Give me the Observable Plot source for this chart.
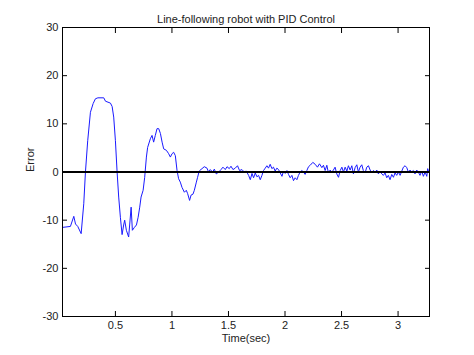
<!DOCTYPE html>
<html>
<head>
<meta charset="utf-8">
<script src="https://cdn.jsdelivr.net/npm/d3@7"></script>
<script src="https://cdn.jsdelivr.net/npm/@observablehq/plot@0.6"></script>
<style>
  html, body { margin: 0; padding: 0; background: #fff; }
</style>
</head>
<body>
<div id="chart"></div>
<script>
const title = "Line-following robot with PID Control";
const xLabel = "Time(sec)";
const yLabel = "Error";
const xTicks = [0.5, 1, 1.5, 2, 2.5, 3];
const yTicks = [-30, -20, -10, 0, 10, 20, 30];

const time = [
  0.032, 0.102, 0.132, 0.147, 0.167, 0.197, 0.220, 0.235, 0.255, 0.279,
  0.303, 0.323, 0.345, 0.397, 0.412, 0.456, 0.471, 0.485, 0.500, 0.515,
  0.529, 0.544, 0.559, 0.573, 0.582, 0.597, 0.617, 0.626, 0.639, 0.650,
  0.668, 0.686, 0.701, 0.715, 0.727, 0.745, 0.759, 0.774, 0.785, 0.809,
  0.824, 0.838, 0.853, 0.868, 0.883, 0.898, 0.913, 0.927, 0.951, 0.971,
  0.986, 1.001, 1.015, 1.030, 1.045, 1.059, 1.074, 1.089, 1.110, 1.127,
  1.139, 1.156, 1.169, 1.186, 1.198, 1.216, 1.227, 1.239,
  1.245, 1.266, 1.286, 1.310, 1.324, 1.339, 1.360, 1.375, 1.392, 1.413,
  1.434, 1.451, 1.472, 1.487, 1.507, 1.522, 1.540, 1.560, 1.580, 1.598,
  1.619, 1.640, 1.657, 1.678, 1.693, 1.708, 1.722, 1.737, 1.752, 1.766,
  1.781, 1.796, 1.810, 1.825, 1.840, 1.854, 1.869, 1.884, 1.898, 1.913,
  1.928, 1.943, 1.958, 1.973, 1.987, 2.002, 2.017, 2.031, 2.046, 2.061,
  2.075, 2.090, 2.105, 2.119, 2.134, 2.149, 2.163, 2.178, 2.193, 2.208,
  2.223, 2.246, 2.267, 2.287, 2.305, 2.326, 2.340, 2.355, 2.370, 2.384,
  2.399, 2.414, 2.428, 2.443, 2.458, 2.473, 2.488, 2.503, 2.517, 2.532,
  2.547, 2.561, 2.576, 2.591, 2.605, 2.620, 2.635, 2.649, 2.664, 2.679,
  2.693, 2.708, 2.723, 2.738, 2.753, 2.768, 2.782, 2.797, 2.812, 2.826,
  2.841, 2.856, 2.870, 2.885, 2.900, 2.914, 2.929, 2.944, 2.959, 2.973,
  2.988, 3.003, 3.018, 3.033, 3.047, 3.062, 3.077, 3.091, 3.106, 3.121,
  3.135, 3.150, 3.165, 3.179, 3.194, 3.209, 3.224, 3.239, 3.254, 3.262,
  3.271
];

const error = [
  -11.5, -11.3, -9.2, -10.8, -11.3, -12.8, -6.6, 0.0, 6.5, 12.4,
  14.2, 15.2, 15.4, 15.4, 14.7, 14.3, 13.6, 11.4, 6.5, 0.0,
  -5.2, -9.4, -13.0, -11.0, -10.0, -12.1, -13.5, -11.0, -7.3, -12.1,
  -11.5, -11.0, -9.4, -7.3, -5.2, -3.8, -1.1, 3.1, 5.1, 6.9,
  7.6, 6.2, 7.6, 9.0, 9.0, 8.0, 6.2, 4.8, 4.5, 3.8,
  3.1, 3.8, 4.1, 3.4, 0.3, -1.4, -2.1, -3.2, -4.2, -3.8,
  -4.5, -5.9, -4.8, -4.6, -3.8, -2.1, -1.1, 0.0,
  0.3, 0.7, 1.1, 0.8, 0.0, 0.5, 0.0, 0.6, -0.4, 0.0,
  0.5, 1.0, 0.5, 1.1, 0.7, 1.2, 0.5, 0.8, 1.3, 0.3,
  0.5, 0.0, 0.2, -0.7, -1.6, -0.3, -1.2, -0.2, -1.0, -0.7,
  -1.6, -0.7, 0.3, 0.8, 1.3, 0.8, 1.6, 0.7, 1.0, 0.2,
  0.8, 0.5, -0.2, -0.9, 0.2, -0.3, 0.3, -0.5, -1.2, -0.7,
  -1.8, -1.2, -1.6, -0.7, 0.0, 0.3, 0.0, -0.5, 0.3, 1.1,
  1.4, 2.0, 1.6, 1.0, 1.7, 0.9, 1.4, 0.3, 1.4, -0.2,
  0.4, 0.0, 0.4, 1.0, -0.4, -1.1, 0.3, 1.0, 0.0, 1.0,
  0.2, 1.3, 0.4, 1.3, -0.4, 0.9, 1.5, 0.0, 1.0, 1.5,
  0.3, -0.2, 1.0, 1.3, 0.4, -0.2, 0.3, 0.0, 0.4, -0.4,
  0.2, -0.4, -0.7, -0.2, -1.2, -0.7, -1.6, -0.5, -1.1, -0.2,
  -0.7, 0.0, -0.7, 0.2, 1.0, 1.3, 0.9, 0.0, 0.4, 0.0,
  0.3, -0.4, 0.4, 0.0, -0.7, 0.2, -0.9, 0.0, -0.9, 0.7,
  0.0
];

const data = time.map((t, i) => ({t, e: error[i]}));

const chart = Plot.plot({
  width: 474,
  height: 355,
  marginLeft: 62,
  marginRight: 45,
  marginTop: 27,
  marginBottom: 39,
  style: {
    fontFamily: "'Liberation Sans', Arial, sans-serif",
    fontSize: "11px",
    background: "#fff",
    color: "#222"
  },
  x: {domain: [0.032, 3.278]},
  y: {domain: [-30, 30]},
  marks: [
    Plot.line(data, {x: "t", y: "e", stroke: "#1a1aff", strokeWidth: 1}),
    Plot.ruleY([0], {stroke: "#000", strokeWidth: 2}),
    Plot.frame({stroke: "#000"}),
    Plot.axisX(xTicks, {anchor: "bottom", tickSize: -5, tickPadding: 10, stroke: "#000",
      label: null, tickFormat: d => String(d)}),
    Plot.axisX(xTicks, {anchor: "top", tickSize: -5, stroke: "#000", tickFormat: () => "", label: null}),
    Plot.axisY(yTicks, {anchor: "left", tickSize: -5, tickPadding: 9, stroke: "#000",
      label: null, tickFormat: d => String(d)}),
    Plot.axisY(yTicks, {anchor: "right", tickSize: -5, stroke: "#000", tickFormat: () => "", label: null}),
    Plot.text([xLabel], {frameAnchor: "bottom", dy: 25, fontSize: 11, fill: "#222"}),
    Plot.text([yLabel], {frameAnchor: "left", dx: -32, rotate: -90, fontSize: 11, fill: "#222"}),
    Plot.text([title], {frameAnchor: "top", dy: -12, fontSize: 11, fill: "#222"})
  ]
});
document.getElementById("chart").appendChild(chart);
</script>
</body>
</html>
